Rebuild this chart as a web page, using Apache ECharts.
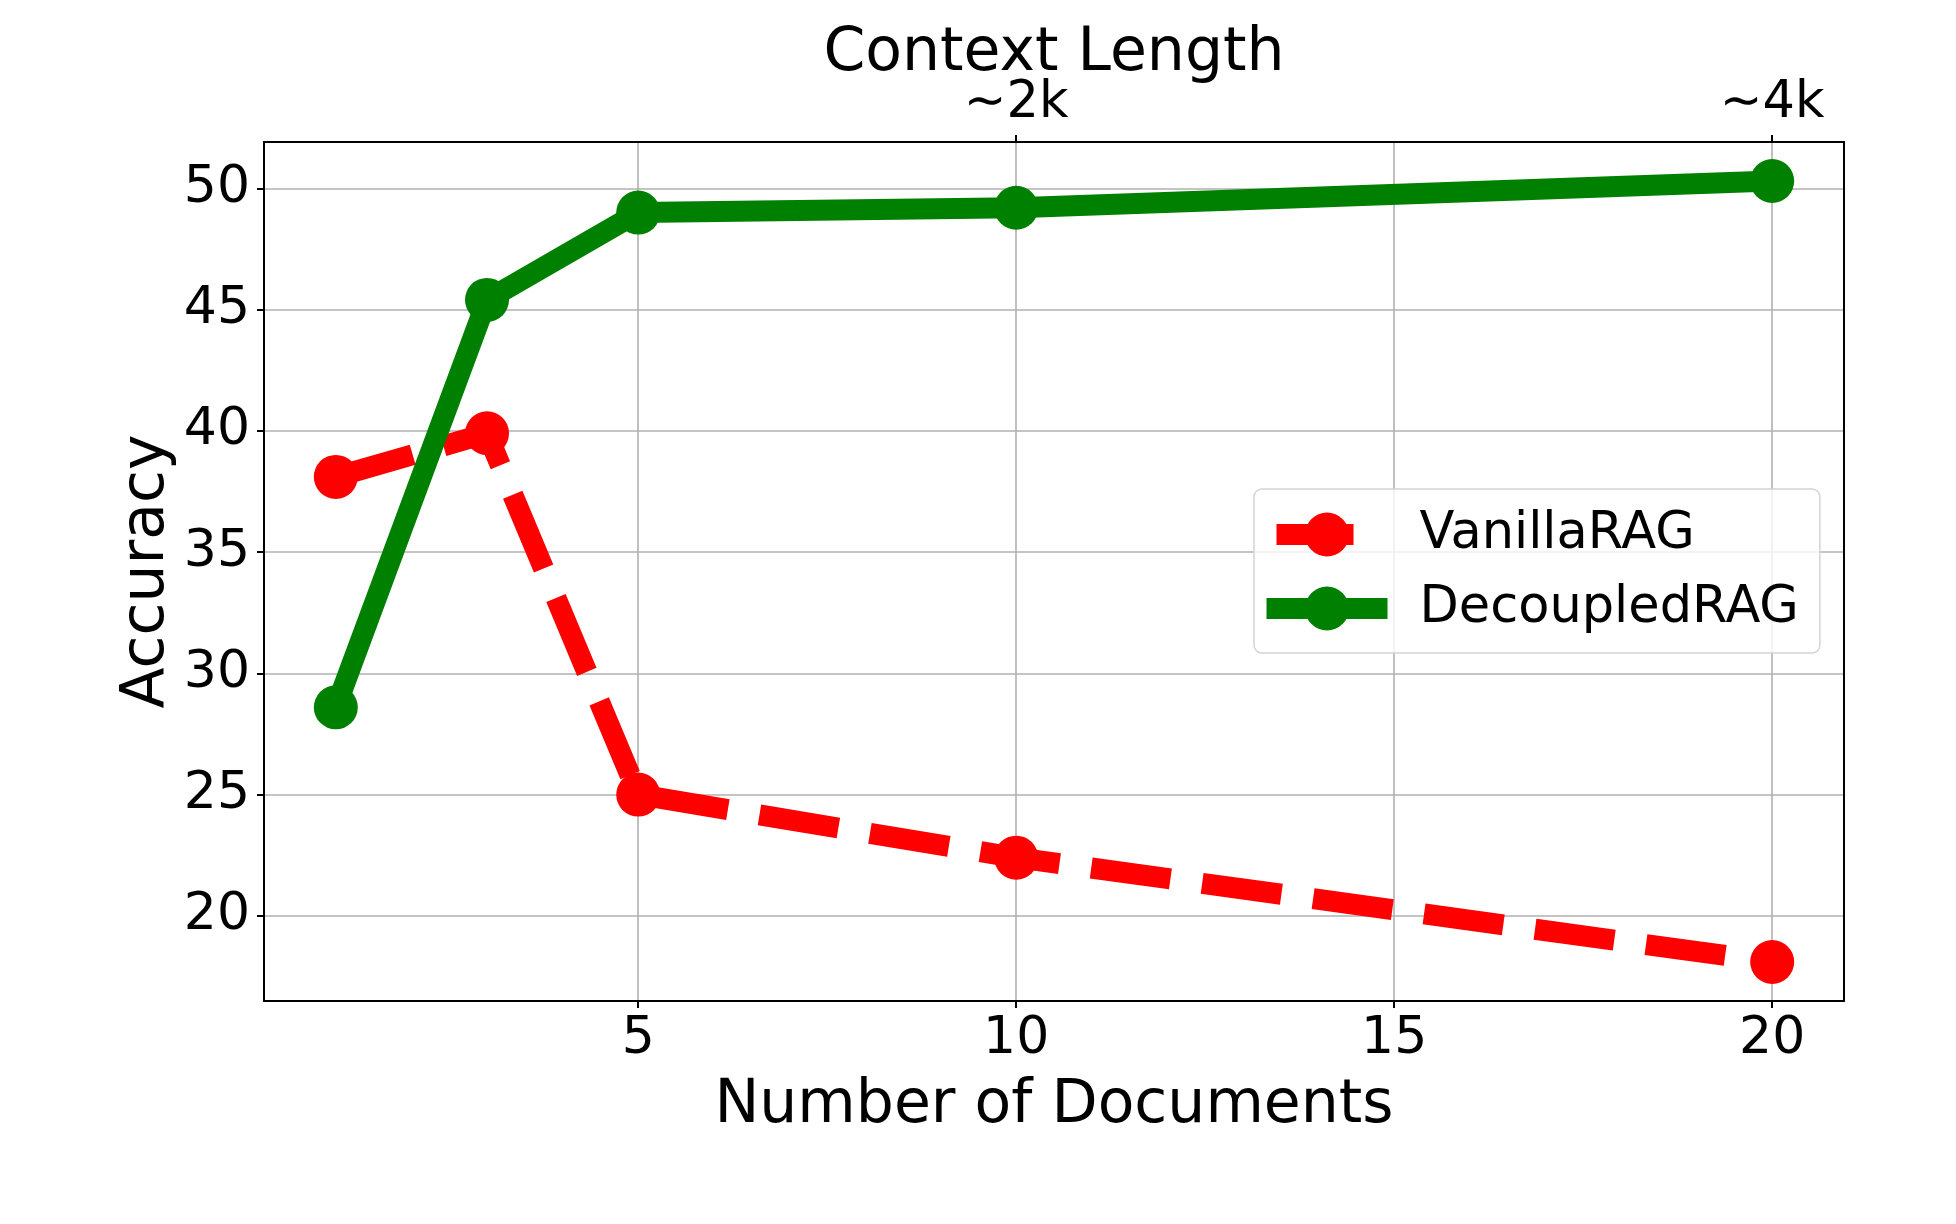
<!DOCTYPE html>
<html>
<head>
<meta charset="utf-8">
<script src="https://cdn.jsdelivr.net/npm/echarts@6/dist/echarts.min.js"></script>
<style>
html,body{margin:0;padding:0;background:#fff;}
#chart{width:1956px;height:1224px;}
</style>
</head>
<body>
<div id="chart"></div>
<script>
// ---- data ----
const numDocs = [1, 3, 5, 10, 20];
const vanillaRAG = [38.1, 39.9, 25.0, 22.4, 18.1];
const decoupledRAG = [28.6, 45.4, 49.0, 49.2, 50.3];
const seriesNames = ['VanillaRAG', 'DecoupledRAG'];
const xTickValues = [5, 10, 15, 20];
const yTickValues = [20, 25, 30, 35, 40, 45, 50];
const topTickValues = [10, 20];
const topTickLabels = ['∼2k', '∼4k'];

const FONT = 'DejaVu Sans';
const xMin = 0.05, xMax = 20.95;
const yMin = 16.49, yMax = 51.91;

const pairs = (xs, ys) => xs.map((x, i) => [x, ys[i]]);

const chart = echarts.init(document.getElementById('chart'), null, {renderer: 'canvas'});
chart.setOption({
  animation: false,
  backgroundColor: '#ffffff',
  grid: {left: 264, top: 142, width: 1580, height: 859, containLabel: false, outerBoundsMode: 'none'},
  legend: {
    orient: 'vertical',
    left: 1254, top: 489,
    itemWidth: 121, itemHeight: 55, itemGap: 23,
    padding: [20, 21, 19, 2],
    backgroundColor: 'rgba(255,255,255,0.8)',
    borderColor: '#d4d4d4', borderWidth: 1.5, borderRadius: 8,
    textStyle: {fontSize: 51, fontFamily: FONT, color: '#000', padding: [0, 0, 0, 27]},
    lineStyle: {width: 21},
    data: [
      {name: seriesNames[0], lineStyle: {width: 21, type: [77, 35], dashOffset: 102, cap: 'butt'}},
      {name: seriesNames[1], lineStyle: {width: 21, type: 'solid'}}
    ]
  },
  xAxis: [{
    type: 'value', position: 'bottom', min: xMin, max: xMax,
    name: 'Number of Documents', nameLocation: 'middle', nameGap: 75, nameMoveOverlap: false,
    nameTextStyle: {fontSize: 60, fontFamily: FONT, color: '#000'},
    axisLine: {show: true, onZero: false, lineStyle: {color: '#000', width: 2}},
    axisTick: {show: true, length: 7, lineStyle: {color: '#000', width: 2}, customValues: xTickValues},
    axisLabel: {fontSize: 52, fontFamily: FONT, color: '#000', margin: 12, customValues: xTickValues},
    splitLine: {show: true, lineStyle: {color: '#b0b0b0', width: 1.6}}
  }, {
    type: 'value', position: 'top', min: xMin, max: xMax,
    name: 'Context Length', nameLocation: 'middle', nameGap: 58, nameMoveOverlap: false,
    nameTextStyle: {fontSize: 60, fontFamily: FONT, color: '#000'},
    axisLine: {show: true, onZero: false, lineStyle: {color: '#000', width: 2}},
    axisTick: {show: true, length: 7, lineStyle: {color: '#000', width: 2}, customValues: topTickValues},
    axisLabel: {fontSize: 51, fontFamily: FONT, color: '#000', margin: 13, customValues: topTickValues,
      formatter: v => { const i = topTickValues.indexOf(v); return i >= 0 ? topTickLabels[i] : ''; }},
    splitLine: {show: false}
  }],
  yAxis: [{
    type: 'value', position: 'left', min: yMin, max: yMax,
    name: 'Accuracy', nameLocation: 'middle', nameGap: 87, nameMoveOverlap: false,
    nameTextStyle: {fontSize: 60, fontFamily: FONT, color: '#000'},
    axisLine: {show: true, onZero: false, lineStyle: {color: '#000', width: 2}},
    axisTick: {show: true, length: 7, lineStyle: {color: '#000', width: 2}, customValues: yTickValues},
    axisLabel: {fontSize: 52, fontFamily: FONT, color: '#000', margin: 14, customValues: yTickValues},
    splitLine: {show: true, lineStyle: {color: '#b0b0b0', width: 1.6}}
  }, {
    type: 'value', position: 'right', min: yMin, max: yMax,
    axisLine: {show: true, onZero: false, lineStyle: {color: '#000', width: 2}},
    axisTick: {show: false}, axisLabel: {show: false}, splitLine: {show: false}
  }],
  series: [{
    name: seriesNames[0], type: 'line', xAxisIndex: 0, yAxisIndex: 0,
    data: pairs(numDocs, vanillaRAG),
    symbol: 'circle', symbolSize: 44, showSymbol: true,
    color: '#ff0000',
    lineStyle: {color: '#ff0000', width: 21, type: [80, 32], cap: 'butt'},
    itemStyle: {color: '#ff0000'},
    emphasis: {disabled: true}
  }, {
    name: seriesNames[1], type: 'line', xAxisIndex: 0, yAxisIndex: 0,
    data: pairs(numDocs, decoupledRAG),
    symbol: 'circle', symbolSize: 44, showSymbol: true,
    color: '#008000',
    lineStyle: {color: '#008000', width: 21, type: 'solid'},
    itemStyle: {color: '#008000'},
    emphasis: {disabled: true}
  }]
});
</script>
</body>
</html>
